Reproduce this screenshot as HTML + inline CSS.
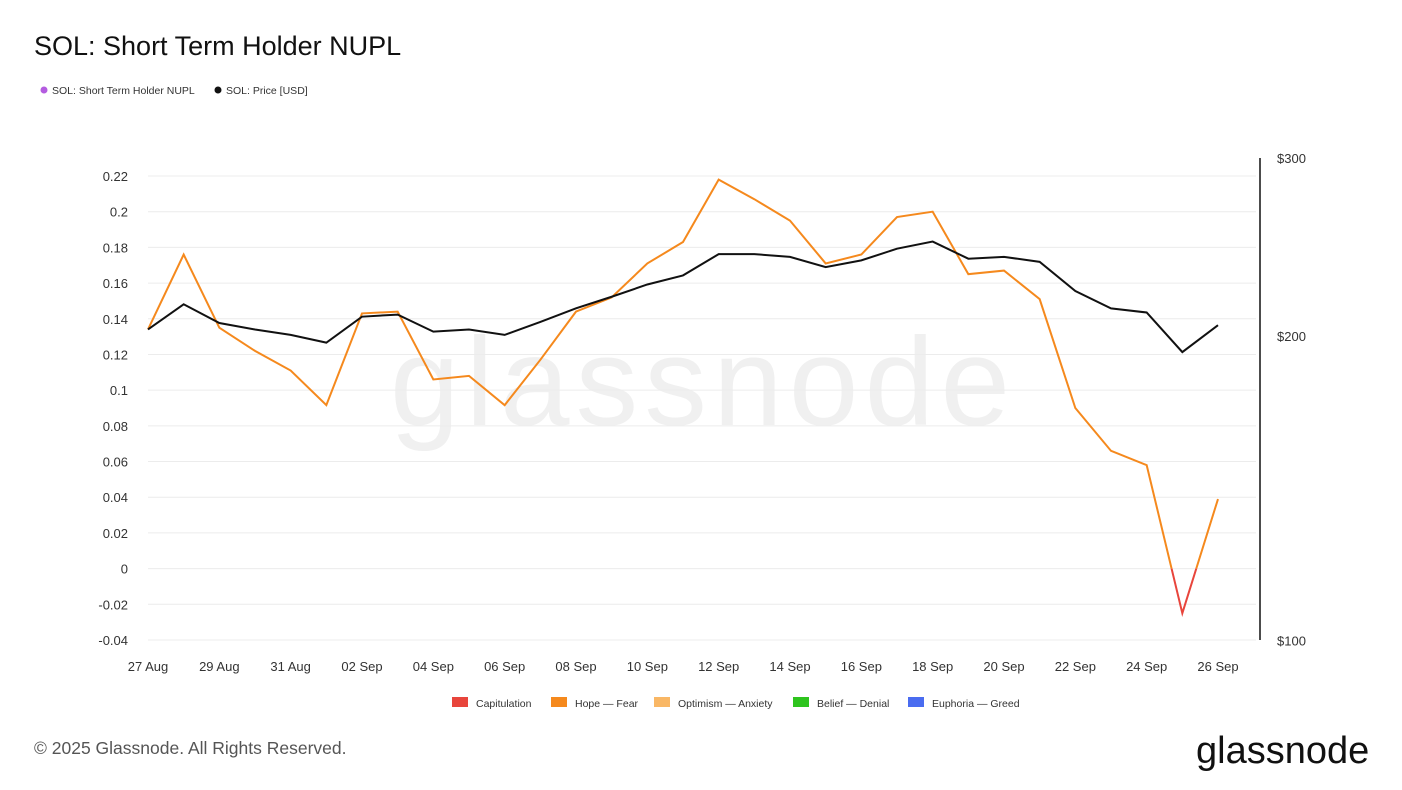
<!DOCTYPE html>
<html><head><meta charset="utf-8">
<style>
body{margin:0;background:#fff;font-family:"Liberation Sans",sans-serif;}
svg text{font-family:"Liberation Sans",sans-serif;}
</style></head>
<body>
<svg id="chart" width="1402" height="785" viewBox="0 0 1402 785" xmlns="http://www.w3.org/2000/svg">
<text x="34" y="55" font-size="27" fill="#111">SOL: Short Term Holder NUPL</text>
<g>
<circle cx="44" cy="90" r="3.5" fill="#b45ce0"/>
<text x="52" y="94" font-size="10.5" fill="#333">SOL: Short Term Holder NUPL</text>
<circle cx="218" cy="90" r="3.5" fill="#111"/>
<text x="226" y="94" font-size="10.5" fill="#333">SOL: Price [USD]</text>
</g>
<text x="700" y="425" font-size="125" fill="#f0f0f0" text-anchor="middle" textLength="620">glassnode</text>
<g id="grid"></g>
<g id="axes"></g>
<g id="series"></g>
<g font-size="10.5" fill="#333">
<rect x="452" y="697" width="16" height="10" fill="#e8453c"/><text x="476" y="707">Capitulation</text>
<rect x="551" y="697" width="16" height="10" fill="#f5891d"/><text x="575" y="707">Hope — Fear</text>
<rect x="654" y="697" width="16" height="10" fill="#f9b765"/><text x="678" y="707">Optimism — Anxiety</text>
<rect x="793" y="697" width="16" height="10" fill="#2ec41e"/><text x="817" y="707">Belief — Denial</text>
<rect x="908" y="697" width="16" height="10" fill="#4a6cf0"/><text x="932" y="707">Euphoria — Greed</text>
</g>
<text x="34" y="754" font-size="17.5" fill="#555">© 2025 Glassnode. All Rights Reserved.</text>
<text x="1196" y="763" font-size="38" fill="#111">glassnode</text>
</svg>
<script>
const dates=["27 Aug","28 Aug","29 Aug","30 Aug","31 Aug","01 Sep","02 Sep","03 Sep","04 Sep","05 Sep","06 Sep","07 Sep","08 Sep","09 Sep","10 Sep","11 Sep","12 Sep","13 Sep","14 Sep","15 Sep","16 Sep","17 Sep","18 Sep","19 Sep","20 Sep","21 Sep","22 Sep","23 Sep","24 Sep","25 Sep","26 Sep"];
const nupl=[0.134,0.176,0.135,0.122,0.111,0.0916,0.143,0.144,0.106,0.108,0.0916,0.117,0.144,0.152,0.171,0.183,0.218,0.207,0.195,0.171,0.176,0.197,0.200,0.165,0.167,0.151,0.090,0.066,0.058,-0.025,0.039];
const price=[203,215,206,203,200.5,197,209,210,202,203,200.5,206.5,213,218.7,224.9,229.6,241,241,239.5,234,237.6,244,248,238.5,239.5,236.8,221.6,213,211,192.8,205];
const leftTicks=[0.22,0.2,0.18,0.16,0.14,0.12,0.1,0.08,0.06,0.04,0.02,0,-0.02,-0.04];
const rightTicks=[300,200,100];
const xTickIdx=[0,2,4,6,8,10,12,14,16,18,20,22,24,26,28,30];
const NS="http://www.w3.org/2000/svg";
const X0=148,X1=1218,YT=176,YB=640;
const x=i=>X0+(X1-X0)*i/(dates.length-1);
const y=v=>YB+(v-(-0.04))*(YT-YB)/0.26;
const yp=p=>158+439*Math.log(300/p);
function mk(tag,attrs,parent){const e=document.createElementNS(NS,tag);for(const k in attrs)e.setAttribute(k,attrs[k]);parent.appendChild(e);return e;}
const grid=document.getElementById('grid'),axes=document.getElementById('axes'),ser=document.getElementById('series');
leftTicks.forEach(t=>{
 const l=mk('line',{x1:X0,x2:1256,y1:y(t),y2:y(t),stroke:'#ececec'},grid);
 
 
 const tx=mk('text',{x:128,y:y(t)+5,'font-size':13,fill:'#333','text-anchor':'end'},axes);
 tx.textContent=(Math.round(t*100)/100).toString();
 
 
});
const ax=mk('line',{x1:1260,x2:1260,y1:158,y2:640,stroke:'#111','stroke-width':1.5},axes);


rightTicks.forEach(p=>{
 const tx=mk('text',{x:1277,y:yp(p)+5,'font-size':13,fill:'#333'},axes);
 tx.textContent='$'+p;
 
 
});
xTickIdx.forEach(i=>{
 const tx=mk('text',{x:x(i),y:671,'font-size':13,fill:'#333','text-anchor':'middle'},axes);
 tx.textContent=dates[i];
 
 
});
const defs=mk('defs',{},ser);
const y0=y(0);
const c1=mk('clipPath',{id:'above'},defs);mk('rect',{x:0,y:0,width:1402,height:y0},c1);
const c2=mk('clipPath',{id:'below'},defs);mk('rect',{x:0,y:y0,width:1402,height:200},c2);
const nd=nupl.map((v,i)=>(i?'L':'M')+x(i)+','+y(v)).join('');
const n1=mk('path',{d:nd,fill:'none',stroke:'#f5891d','stroke-width':2,'clip-path':'url(#above)'},ser);


const n2=mk('path',{d:nd,fill:'none',stroke:'#e8453c','stroke-width':2,'clip-path':'url(#below)'},ser);


const pd=price.map((v,i)=>(i?'L':'M')+x(i)+','+yp(v)).join('');
const pl=mk('path',{d:pd,fill:'none',stroke:'#111','stroke-width':2},ser);


</script>
</body></html>
